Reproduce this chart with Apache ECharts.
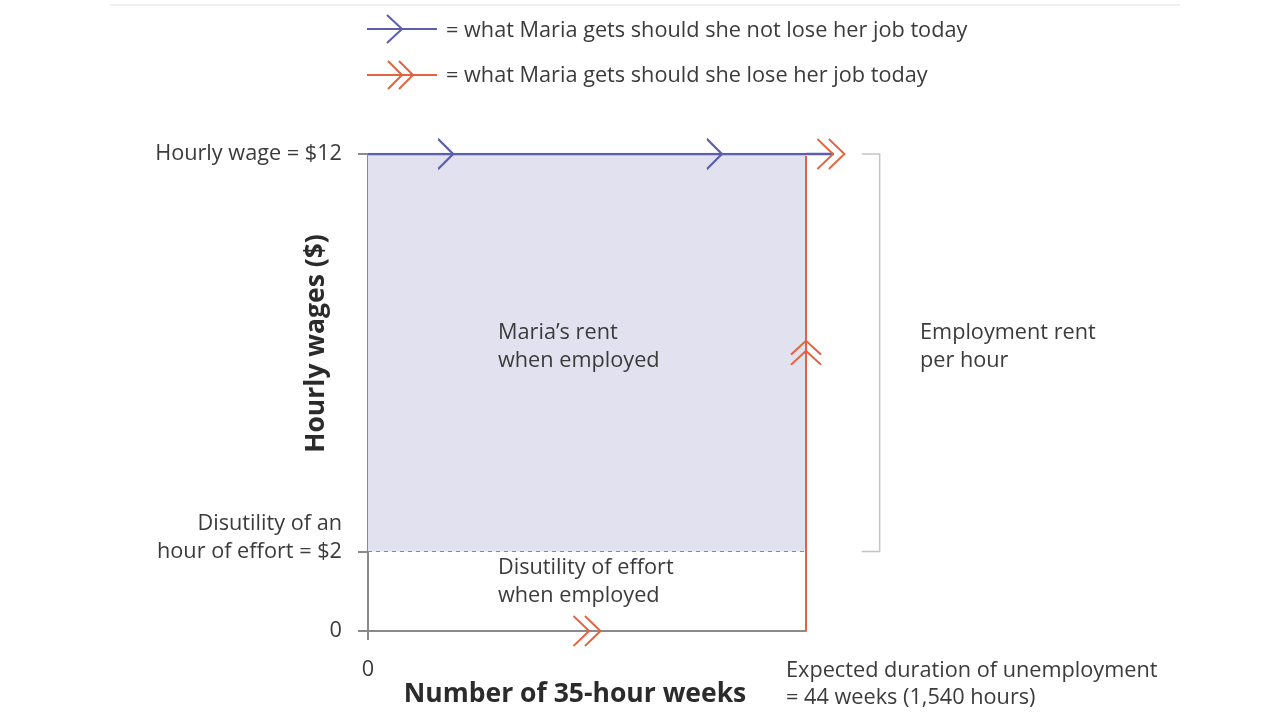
<!DOCTYPE html>
<html>
<head>
<meta charset="utf-8">
<script src="https://cdn.jsdelivr.net/npm/echarts@6/dist/echarts.min.js"></script>
<style>
  html, body { margin: 0; background: #fff; }
  #employmentrent { width: 1276px; height: 719px; }
</style>
</head>
<body>
<div id="employmentrent"></div>
<script>
// chart values
var unemploymentWeeks = 44;     // expected duration of unemployment (weeks)
var hourlyWage = 12;            // $ per hour
var effortDisutility = 2;       // $ per hour
var yTickValues = [0, 2, 12];
var yTickLabels = ["0", "Disutility of an\nhour of effort = $2\n", "Hourly wage = $12"];
var xTickValues = [0];
var blueArrowWeeks = [7.8, 34.8];          // single chevrons on the wage line
var redArrowTop = [46.5, 12];              // double chevron right of the box
var redArrowSide = [44, 7];                // double chevron on the vertical line
var redArrowBottom = [22, 0];              // double chevron on the x axis
var wageLineEnd = 46.8;

var blue = "#5b5fae";
var red = "#e2633f";
var axisGrey = "#8a8a8a";
var textColor = "#3b3b3b";
var fontFamily = "'Open Sans', sans-serif";
var fontSize = 21.7;
var font = fontSize + "px " + fontFamily;

var chevron = "path://M0,0L15,15L0,30";
var doubleChevron = "path://M0,0L15,15L0,30M11,0L26,15L11,30";

var chartDom = document.getElementById("employmentrent");
var myChart = echarts.init(chartDom);

var bracketIn = 49.6, bracketOut = 51.4;

function note(x, y, text, lh) {
  return {
    type: "text", z: 100, x: x, y: y,
    style: { text: text, fill: textColor, font: font, lineHeight: lh || 28, verticalAlign: "top" }
  };
}

var option = {
  animation: false,
  grid: { left: 368, right: 470, top: 154, bottom: 88 },
  xAxis: {
    type: "value",
    min: 0,
    max: unemploymentWeeks,
    name: "Number of 35-hour weeks",
    nameLocation: "middle",
    nameGap: 50,
    nameMoveOverlap: false,
    nameTextStyle: {
      fontFamily: fontFamily, fontSize: 26.5, fontWeight: "bold", color: "#2b2b2b",
      padding: [0, 24, 0, 0]
    },
    splitLine: { show: false },
    axisLine: { show: true, lineStyle: { color: axisGrey, width: 2 } },
    axisTick: { show: true, length: 9, customValues: xTickValues, lineStyle: { color: axisGrey, width: 2 } },
    axisLabel: {
      customValues: xTickValues,
      margin: 28,
      color: textColor,
      fontFamily: fontFamily,
      fontSize: fontSize
    }
  },
  yAxis: {
    type: "value",
    min: 0,
    max: hourlyWage,
    name: "Hourly wages ($)",
    nameLocation: "middle",
    nameGap: 38,
    nameRotate: 90,
    nameMoveOverlap: false,
    nameTextStyle: {
      fontFamily: fontFamily, fontSize: 26.5, fontWeight: "bold", color: "#2b2b2b",
      padding: [0, 0, 0, 98]
    },
    splitLine: { show: false },
    axisLine: { show: true, lineStyle: { color: axisGrey, width: 2 } },
    axisTick: { show: true, length: 10, customValues: yTickValues, lineStyle: { color: axisGrey, width: 2 } },
    axisLabel: {
      customValues: yTickValues,
      formatter: function (v) {
        return yTickLabels[yTickValues.indexOf(v)];
      },
      margin: 26,
      lineHeight: 28,
      padding: [4, 0, 0, 0],
      color: textColor,
      fontFamily: fontFamily,
      fontSize: fontSize
    }
  },
  series: [
    {
      // employment rent area + effort line
      type: "line",
      silent: true,
      symbol: "none",
      z: 1,
      lineStyle: { color: "#8c8c8c", width: 1, type: [4, 4] },
      data: [[0, effortDisutility], [unemploymentWeeks, effortDisutility]],
      markArea: {
        silent: true,
        itemStyle: { color: "#e1e1f0" },
        data: [[{ coord: [0, effortDisutility] }, { coord: [unemploymentWeeks, hourlyWage] }]]
      }
    },
    {
      // unemployed path
      type: "line",
      silent: true,
      symbol: "none",
      z: 3,
      lineStyle: { color: red, width: 2 },
      data: [[unemploymentWeeks, 0], [unemploymentWeeks, hourlyWage - 0.05]]
    },
    {
      // employed path
      type: "line",
      silent: true,
      symbol: "none",
      z: 4,
      lineStyle: { color: blue, width: 2.5 },
      data: [[0, hourlyWage], [unemploymentWeeks, hourlyWage]]
    },
    {
      // wage line continuing past the axis end, and the employment-rent bracket
      type: "custom",
      silent: true,
      z: 4,
      data: [[unemploymentWeeks, wageLineEnd]],
      renderItem: function (params, api) {
        var a = api.coord([api.value(0), hourlyWage]);
        var b = api.coord([api.value(1), hourlyWage]);
        var pts = [
          api.coord([bracketIn, hourlyWage]),
          api.coord([bracketOut, hourlyWage]),
          api.coord([bracketOut, effortDisutility]),
          api.coord([bracketIn, effortDisutility])
        ];
        return {
          type: "group",
          children: [
            { type: "line", shape: { x1: a[0], y1: a[1], x2: b[0], y2: b[1] }, style: { stroke: blue, lineWidth: 2.5 } },
            { type: "polyline", shape: { points: pts }, style: { stroke: "#c4c4c4", lineWidth: 1.5, fill: null } }
          ]
        };
      }
    },
    {
      type: "scatter",
      silent: true,
      clip: false,
      z: 5,
      symbol: chevron,
      symbolSize: [15, 30],
      itemStyle: { color: "transparent", borderColor: blue, borderWidth: 2, opacity: 1 },
      data: blueArrowWeeks.map(function (w) { return [w, hourlyWage]; })
    },
    {
      type: "scatter",
      silent: true,
      clip: false,
      z: 6,
      symbol: doubleChevron,
      symbolSize: [27, 30],
      itemStyle: { color: "transparent", borderColor: red, borderWidth: 2, opacity: 1 },
      data: [
        { value: redArrowTop },
        { value: redArrowBottom },
        { value: redArrowSide, symbolRotate: 90, symbolSize: [24, 30] }
      ]
    }
  ],
  graphic: [
    { type: "line", shape: { x1: 110, y1: 5, x2: 1180, y2: 5 }, style: { stroke: "#e2e2e2", lineWidth: 1 } },
    // legend
    { type: "line", shape: { x1: 367, y1: 29, x2: 437, y2: 29 }, style: { stroke: blue, lineWidth: 2 } },
    { type: "polyline", shape: { points: [[387, 15], [402, 29], [387, 43]] }, style: { stroke: blue, lineWidth: 2, fill: null } },
    note(446, 17, "= what Maria gets should she not lose her job today"),
    { type: "line", shape: { x1: 367, y1: 75, x2: 437, y2: 75 }, style: { stroke: red, lineWidth: 2 } },
    { type: "polyline", shape: { points: [[388, 61], [402, 75], [388, 89]] }, style: { stroke: red, lineWidth: 2, fill: null } },
    { type: "polyline", shape: { points: [[399, 61], [413, 75], [399, 89]] }, style: { stroke: red, lineWidth: 2, fill: null } },
    note(446, 62, "= what Maria gets should she lose her job today"),
    // annotations
    note(498, 319, "Maria\u2019s rent\nwhen employed"),
    note(498, 554, "Disutility of effort\nwhen employed"),
    note(920, 319, "Employment rent\nper hour"),
    note(786, 657, "Expected duration of unemployment\n= 44 weeks (1,540 hours)", 27)
  ]
};

option && myChart.setOption(option);
</script>
</body>
</html>
